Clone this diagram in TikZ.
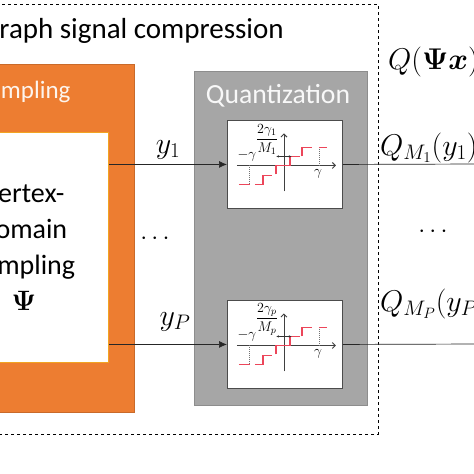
\documentclass[tikz,border=0pt]{standalone}
\usepackage{fix-cm}
\usepackage{amsmath}
\usepackage{amssymb}
\usepackage[no-math]{fontspec}
\setmainfont{Carlito}
\usepackage{tikz}
\usetikzlibrary{positioning,arrows.meta,calc}

\definecolor{sampleorange}{RGB}{237,125,49}
\definecolor{quantgray}{RGB}{166,166,166}
\definecolor{stepred}{RGB}{236,70,90}

\begin{document}
\begin{tikzpicture}[
    x=1pt, y=-1pt,
    font=\fontsize{25}{29}\selectfont,
    block/.style={draw=#1!85!black, fill=#1, line width=0.8pt},
    whitebox/.style={draw=black!70, fill=white, line width=0.9pt, inner sep=0pt, minimum width=115pt, minimum height=88pt},
    op/.style={-{Latex[length=8pt,width=7pt]}, black!85, line width=0.7pt},
    wire/.style={black!85, line width=0.7pt},
    lbl/.style={inner sep=0pt, text=black},
    mathlbl/.style={lbl, font=\fontsize{30}{34}\selectfont},
    stepline/.style={stepred, line width=1.4pt},
    guide/.style={black!55, densely dotted, line width=0.9pt},
    tiny/.style={inner sep=0pt, font=\fontsize{14}{15}\selectfont},
    quantcurve/.pic={
      % axes
      \draw[-{Straight Barb[length=3pt]}, black!75, line width=0.9pt] (-47,0) -- (52,0);
      \draw[-{Straight Barb[length=3pt]}, black!75, line width=0.9pt] (0,26) -- (0,-32);
      \draw[guide] (-35,0) -- (-35,18);
      \draw[guide] (35,0) -- (35,-18);
      % staircase
      \draw[stepline] (-45,19) -- (-34,19);
      \draw[stepline] (-29,19) -- (-21,19) -- (-21,10) -- (-12,10);
      \draw[stepline] (-8,9) -- (-8,0) -- (6,0) -- (6,-9) -- (16,-9);
      \draw[stepline] (18,-9) -- (18,-18) -- (28,-18);
      \draw[stepline] (35,-18) -- (43,-18);
      \draw[{Latex[length=3pt]}-{Latex[length=3pt]}, black!80, line width=0.5pt] (-8,-9) -- (8,-9);
      \node[tiny] at (-37,-10) {$-\gamma$};
      \node[tiny] at (34,8) {$\gamma$};
      \node[tiny] at (-17,-26) {$\dfrac{2\gamma_{#1}}{M_{#1}}$};
    },
  ]
  \clip (0,0) rectangle (474,474);
  \fill[white] (0,0) rectangle (474,474);

  % --- Dashed outer frame ---
  \draw[dashed, black, line width=0.8pt] (-10,4) -- (378,4) -- (378,434) -- (-10,434);
  \node[lbl, font=\fontsize{29}{32}\selectfont, anchor=base west] (title) at (-19,38) {Graph signal compression};
  \node[mathlbl, anchor=base west] (qout) at (388,69) {$Q(\mathbf{\Psi}\boldsymbol{x})$};

  % --- Sampling block ---
  \node[block=sampleorange, minimum width=155pt, minimum height=348pt, inner sep=0pt, anchor=north east] (sampling) at (135,64) {};
  \node[lbl, text=white!92!sampleorange, anchor=base] (samplingname) at (24,98) {Sampling};
  \node[draw=sampleorange!70!yellow, fill=white, line width=0.8pt, minimum width=129pt, minimum height=230pt, inner sep=0pt, anchor=north east] (vert) at (109,132) {};
  \node[lbl, align=center, font=\fontsize{28}{36}\selectfont, anchor=center] (vertname) at (24,248)
    {Vertex-\\domain\\sampling\\$\mathbf{\Psi}$};

  % --- Quantization block ---
  \node[block=quantgray, minimum width=173pt, minimum height=334pt, inner sep=0pt, anchor=north west] (quant) at (194,71) {};
  \node[lbl, font=\fontsize{27.7}{32}\selectfont, text=white!92!quantgray, anchor=base] (quantname) at (278,103) {Quantization};

  \node[whitebox, anchor=north west] (qone) at (227,120) {};
  \node[whitebox, anchor=north west] (qp) at (227,300) {};
  \pic at ($(qone.center)+(-1,1)$) {quantcurve={1}};
  \pic at ($(qp.center)+(-1,1)$) {quantcurve={p}};

  % --- Connectors ---
  \coordinate (outone) at (480,164);
  \coordinate (outp) at (480,344);
  \draw[op] (vert.east |- qone.west) -- (qone.west);
  \draw[op] (vert.east |- qp.west) -- (qp.west);
  \draw[wire] (qone.east) -- (outone);
  \draw[wire] (qp.east) -- (outp);

  % --- Labels ---
  \node[mathlbl, anchor=base] (yone) at (168,153) {$y_1$};
  \node[mathlbl, anchor=base] (yp) at (175,325) {$y_P$};
  \node[mathlbl, anchor=base west] (qmone) at (380,155) {$Q_{M_1}(y_1)$};
  \node[mathlbl, anchor=base west] (qmp) at (380,311) {$Q_{M_P}(y_P)$};
  \node[lbl] (dotsleft) at (157,239) {$\cdots$};
  \node[lbl] (dotsright) at (435,232) {$\cdots$};
\end{tikzpicture}
\end{document}
